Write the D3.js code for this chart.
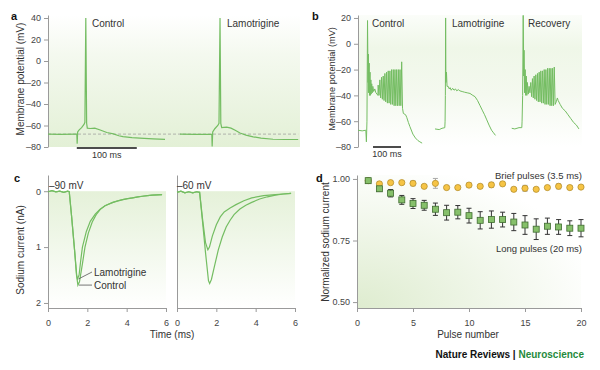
<!DOCTYPE html>
<html>
<head>
<meta charset="utf-8">
<script src="https://cdn.jsdelivr.net/npm/d3@7"></script>
<style>
  body { margin: 0; background: #fff; }
  svg { font-family: "Liberation Sans", Arial, Helvetica, sans-serif; }
</style>
</head>
<body>
<svg id="fig" width="600" height="370"></svg>
<script>
// ---- data ----
// panel a: current-clamp, time (ms) vs membrane potential (mV)
const aControl = [[0,-68],[20,-68.3],[47,-68],[48,-68],[48.6,-77],[49.4,-66],[52,-64],[56,-62],[60,-59],[61.5,-57],[63,40],[64.4,-58],[65.5,-62.5],[70,-62.8],[78,-62.5],[87,-64.2],[98,-66.5],[109,-67.8],[118,-69.5],[125,-70.4],[140,-71.3],[153,-71.7],[175,-72.4],[195,-72.9]];
const aLamotrigine = [[220,-68],[245,-68.3],[273,-68],[273.6,-79.5],[274.5,-66],[278,-63],[283,-60],[285,-58],[286.7,40],[288,-58],[289.5,-62],[293,-61.8],[298,-61.5],[305,-62.5],[312,-64.5],[320,-67],[330,-69],[342,-70.5],[355,-71.8],[375,-72.8],[395,-73],[417,-73]];
const aRest = -68;
const aTicks = [40, 20, 0, -20, -40, -60, -80];

// panel b: repetitive firing, time (ms) vs membrane potential (mV)
const bControl = [[0,-67],[15,-67.5],[28,-67],[30,-76],[32,-60],[34,18],[36,-30],[37,-8],[38,-38],[40,-15],[41,-40],[43,-22],[44,-40],[46,-28],[47,-39],[49,-31],[51,-38],[53,-33],[56,-37],[60,-35],[64,-38],[68,-39],[71,-40],
  [72,-32],[75,-40],[78,-28],[81,-42],[84,-26],[87,-43],[90,-25],[93,-44],[96,-23],[99,-45],[102,-22],[105,-46],[108,-21],[111,-46],[114,-21],[117,-47],[120,-20],[123,-47],[126,-20],[129,-48],[132,-20],[135,-48],[138,-20],[141,-48],[144,-20],[147,-48],[150,-20],[153,-48],
  [156,-14],[159,-50],[162,-54],[170,-55],[174,-57],[180,-61],[185,-64],[196,-70],[205,-73],[214,-75],[221,-76],[229,-77]];
const bLamotrigine = [[275,-66],[290,-66.5],[300,-65.5],[310,-65],[311,-60],[312,-40],[313,20],[314,-30],[316,-22],[318,-33],[322,-33],[326,-35],[329,-34],[333,-36],[338,-34.5],[343,-36],[348,-35],[353,-36.5],[358,-35.5],[364,-36.5],[372,-37],[380,-37.5],[390,-38],[400,-38.5],[410,-40],[418,-41],[427,-44],[436,-48],[445,-52],[452,-55],[460,-59],[468,-63],[477,-67],[484,-69],[491,-71]];
const bRecovery = [[549,-65.5],[560,-66],[575,-65],[585,-65],[586,-60],[588,-40],[590,22],[592,-25],[593,-5],[595,-38],[597,-20],[599,-40],[601,-25],[603,-40],[605,-30],[608,-39],[611,-33],[614,-38],
  [617,-30],[620,-41],[623,-27],[626,-42],[629,-25],[632,-43],[635,-24],[638,-44],[641,-23],[644,-45],[647,-22],[650,-45],[653,-21],[656,-46],[659,-21],[662,-46],[665,-20],[668,-47],[671,-20],[674,-47],[677,-19],[680,-47],[683,-19],[686,-48],[689,-19],[692,-48],[695,-19],[698,-48],[701,-18],[704,-47],
  [708,-45],[712,-42],[715,-44],[722,-47],[730,-50],[740,-52],[750,-55],[760,-58],[770,-61],[780,-63],[789,-66]];
const bTicks = [20, 0, -20, -40, -60, -80];

// panel c: sodium current (nA, inward plotted downwards) vs time (ms)
const c90Control = [[0,0.01],[0.2,-0.01],[0.4,0.01],[0.6,0],[0.8,0.02],[1.0,0],[1.08,0.01],[1.2,0.45],[1.35,1.05],[1.47,1.55],[1.52,1.68],[1.6,1.62],[1.75,1.3],[1.88,1.0],[2.05,0.75],[2.25,0.55],[2.45,0.42],[2.65,0.33],[2.9,0.26],[3.1,0.23],[3.3,0.2],[3.55,0.17],[3.8,0.15],[4.05,0.13],[4.3,0.12],[4.55,0.1],[4.8,0.09],[5.05,0.08],[5.3,0.07],[5.55,0.065],[5.8,0.06]];
const c90Lamotrigine = [[0,0.01],[0.2,-0.01],[0.4,0.01],[0.6,0],[0.8,0.02],[1.0,0],[1.08,0.01],[1.2,0.45],[1.35,1.05],[1.45,1.5],[1.5,1.57],[1.58,1.5],[1.66,1.25],[1.75,1.0],[1.95,0.72],[2.15,0.54],[2.4,0.41],[2.65,0.32],[2.9,0.26],[3.3,0.2],[3.8,0.15],[4.3,0.12],[4.8,0.09],[5.3,0.07],[5.8,0.06]];
const c60Control = [[0,0.02],[0.2,0.0],[0.4,0.03],[0.6,0.01],[0.8,0.03],[1.0,0.01],[1.15,0.02],[1.3,0.55],[1.45,1.1],[1.6,1.6],[1.66,1.65],[1.75,1.58],[1.9,1.35],[2.1,1.05],[2.3,0.82],[2.5,0.64],[2.7,0.52],[2.9,0.42],[3.2,0.32],[3.5,0.25],[3.8,0.2],[4.2,0.14],[4.6,0.1],[5.0,0.07],[5.4,0.05],[5.8,0.04]];
const c60Lamotrigine = [[0,0.02],[0.2,0.0],[0.4,0.03],[0.6,0.01],[0.8,0.03],[1.0,0.01],[1.15,0.02],[1.3,0.5],[1.45,0.92],[1.57,1.05],[1.65,1.0],[1.8,0.8],[2.0,0.6],[2.2,0.46],[2.4,0.37],[2.7,0.3],[3.0,0.24],[3.4,0.17],[3.8,0.12],[4.4,0.08],[5.0,0.06],[5.4,0.05],[5.8,0.04]];
const cTicksY = [0, 1, 2];
const cTicksX = [0, 2, 4, 6];

// panel d: normalized sodium current vs pulse number
const pulses = d3.range(1, 21);
const briefMean = [0.993,0.980,0.985,0.985,0.982,0.970,0.982,0.965,0.965,0.975,0.970,0.976,0.980,0.958,0.962,0.958,0.965,0.970,0.965,0.967];
const briefErr  = [0.004,0.008,0.006,0.006,0.010,0.006,0.020,0.007,0.008,0.008,0.008,0.010,0.007,0.008,0.012,0.007,0.006,0.010,0.008,0.006];
const longMean  = [0.993,0.960,0.942,0.915,0.900,0.893,0.877,0.863,0.865,0.851,0.832,0.835,0.835,0.825,0.813,0.796,0.808,0.805,0.800,0.800];
const longErr   = [0.003,0.010,0.015,0.018,0.020,0.020,0.025,0.030,0.027,0.030,0.035,0.035,0.030,0.035,0.038,0.042,0.033,0.030,0.030,0.035];
const dTicksY = [0.5, 0.75, 1.0];
const dTicksX = [0, 5, 10, 15, 20];

// ---- drawing ----
const trace = "#74bd62";
const axisGrey = "#9a9a9a";
const svg = d3.select("#fig");
const defs = svg.append("defs");

function vGrad(id, stops) {
  const g = defs.append("linearGradient").attr("id", id)
    .attr("x1", 0).attr("y1", 0).attr("x2", 0).attr("y2", 1);
  stops.forEach(s => g.append("stop").attr("offset", s[0]).attr("stop-color", s[1]));
}
vGrad("bgA", [[0, "#ffffff"], [0.3, "#f4f9ef"], [1, "#e3f0d6"]]);
vGrad("bgB", [[0, "#fbfdf9"], [0.25, "#eff7e8"], [0.6, "#f4f9ef"], [1, "#ffffff"]]);
vGrad("bgC", [[0, "#e5f1d9"], [1, "#ffffff"]]);
const rg = defs.append("radialGradient").attr("id", "bgD")
  .attr("cx", 0).attr("cy", 1).attr("r", 1.1);
rg.append("stop").attr("offset", 0).attr("stop-color", "#deeccf");
rg.append("stop").attr("offset", 1).attr("stop-color", "#ffffff");

function styleAxis(g) {
  g.attr("font-family", null).attr("font-size", null);
  g.select(".domain").attr("stroke", axisGrey);
  g.selectAll(".tick line").attr("stroke", axisGrey);
  g.selectAll(".tick text").attr("fill", "#444").style("font-size", "9px");
}
const dashFmt = v => (v < 0 ? "\u2013" + Math.abs(v) : String(v));
const intFmt = d3.format("d");

function label(txt, x, y, opts = {}) {
  return svg.append("text").attr("x", x).attr("y", y)
    .attr("text-anchor", opts.anchor || "start")
    .attr("font-size", opts.size || 10)
    .attr("font-weight", opts.bold ? "bold" : null)
    .attr("fill", opts.fill || "#333")
    .text(txt);
}
function yLabel(txt, x, y, size) {
  svg.append("text").attr("transform", `translate(${x},${y}) rotate(-90)`)
    .attr("text-anchor", "middle").attr("dominant-baseline", "central")
    .attr("font-size", size).attr("fill", "#333").text(txt);
}

// ---------- panel a ----------
const xA = d3.scaleLinear().domain([0, 420]).range([48, 300]);
const yA = d3.scaleLinear().domain([-80, 42.8]).range([147, 15]);
svg.append("rect").attr("x", xA(0)).attr("y", yA(42.8)).attr("width", xA(420) - xA(0))
  .attr("height", yA(-80) - yA(42.8)).attr("fill", "url(#bgA)");
svg.append("g").attr("transform", `translate(${xA(0)},0)`)
  .call(d3.axisLeft(yA).tickValues(aTicks).tickFormat(dashFmt).tickSize(4).tickPadding(3).tickSizeOuter(0))
  .call(styleAxis);
svg.append("line").attr("x1", xA(0)).attr("x2", xA(417)).attr("y1", yA(aRest)).attr("y2", yA(aRest))
  .attr("stroke", "#999").attr("stroke-width", 0.7).attr("stroke-dasharray", "3,2");
const lineA = d3.line().x(d => xA(d[0])).y(d => yA(d[1]));
[aControl, aLamotrigine].forEach(s => svg.append("path").attr("d", lineA(s))
  .attr("fill", "none").attr("stroke", trace).attr("stroke-width", 1.2));
svg.append("line").attr("x1", xA(48)).attr("x2", xA(148)).attr("y1", yA(-81)).attr("y2", yA(-81))
  .attr("stroke", "#111").attr("stroke-width", 1.6);
label("100 ms", (xA(48) + xA(148)) / 2, 158, { anchor: "middle", size: 9 });
label("Control", 92, 27);
label("Lamotrigine", 227, 27);
label("a", 11, 20, { bold: true, size: 11, fill: "#111" });
yLabel("Membrane potential (mV)", 20, 79, 10);

// ---------- panel b ----------
const xB = d3.scaleLinear().domain([0, 800]).range([358, 582]);
const yB = d3.scaleLinear().domain([-80, 22.3]).range([147, 15]);
svg.append("rect").attr("x", xB(0)).attr("y", yB(22.3)).attr("width", xB(800) - xB(0))
  .attr("height", yB(-80) - yB(22.3)).attr("fill", "url(#bgB)");
svg.append("g").attr("transform", `translate(${xB(0)},0)`)
  .call(d3.axisLeft(yB).tickValues(bTicks).tickFormat(dashFmt).tickSize(4).tickPadding(3).tickSizeOuter(0))
  .call(styleAxis);
const lineB = d3.line().x(d => xB(d[0])).y(d => yB(d[1]));
[bControl, bLamotrigine, bRecovery].forEach(s => svg.append("path").attr("d", lineB(s))
  .attr("fill", "none").attr("stroke", trace).attr("stroke-width", 1));
svg.append("line").attr("x1", xB(53.6)).attr("x2", xB(153.6)).attr("y1", yB(-80)).attr("y2", yB(-80))
  .attr("stroke", "#111").attr("stroke-width", 1.5);
label("100 ms", (xB(53.6) + xB(153.6)) / 2, 157, { anchor: "middle", size: 9 });
label("Control", 372, 27);
label("Lamotrigine", 452, 27);
label("Recovery", 528, 27);
label("b", 312, 20, { bold: true, size: 11, fill: "#111" });
yLabel("Membrane potential (mV)", 332, 79, 9.2);

// ---------- panel c ----------
const yC = d3.scaleLinear().domain([2.09, -0.29]).range([308, 175]);
const xC1 = d3.scaleLinear().domain([0, 6]).range([48, 166]);
const xC2 = d3.scaleLinear().domain([0, 6]).range([177, 295]);
[xC1, xC2].forEach(x => svg.append("rect").attr("x", x(0)).attr("y", yC(0))
  .attr("width", x(6) - x(0)).attr("height", yC(2.09) - yC(0)).attr("fill", "url(#bgC)"));
svg.append("g").attr("transform", `translate(${xC1(0)},0)`)
  .call(d3.axisLeft(yC).tickValues(cTicksY).tickFormat(intFmt).tickSize(4).tickPadding(3).tickSizeOuter(0))
  .call(styleAxis);
svg.append("g").attr("transform", `translate(${xC2(0)},0)`)
  .call(d3.axisLeft(yC).tickValues([]).tickSizeOuter(0))
  .call(styleAxis);
[xC1, xC2].forEach(x => svg.append("g").attr("transform", `translate(0,${yC(2.09)})`)
  .call(d3.axisBottom(x).tickValues(cTicksX).tickFormat(intFmt).tickSize(4).tickPadding(8).tickSizeOuter(0))
  .call(styleAxis));
const lineC1 = d3.line().x(d => xC1(d[0])).y(d => yC(d[1]));
const lineC2 = d3.line().x(d => xC2(d[0])).y(d => yC(d[1]));
[c90Control, c90Lamotrigine].forEach(s => svg.append("path").attr("d", lineC1(s))
  .attr("fill", "none").attr("stroke", trace).attr("stroke-width", 1.2));
[c60Control, c60Lamotrigine].forEach(s => svg.append("path").attr("d", lineC2(s))
  .attr("fill", "none").attr("stroke", trace).attr("stroke-width", 1.2));
// leader lines from trace minima
const minOf = s => s.reduce((a, b) => (b[1] > a[1] ? b : a));
const mLam = minOf(c90Lamotrigine), mCon = minOf(c90Control);
svg.append("line").attr("x1", xC1(mLam[0]) + 1).attr("y1", yC(mLam[1])).attr("x2", 92).attr("y2", 272)
  .attr("stroke", "#555").attr("stroke-width", 0.8);
svg.append("line").attr("x1", xC1(mCon[0]) + 1).attr("y1", yC(mCon[1])).attr("x2", 92).attr("y2", yC(mCon[1]))
  .attr("stroke", "#555").attr("stroke-width", 0.8);
label("Lamotrigine", 94, 275.5);
label("Control", 94, yC(mCon[1]) + 3.5);
label("\u201390 mV", 49, 189);
label("\u201360 mV", 177, 189);
label("Time (ms)", 172, 338, { anchor: "middle" });
label("c", 14, 182, { bold: true, size: 11, fill: "#111" });
yLabel("Sodium current (nA)", 20, 250, 10);

// ---------- panel d ----------
const xD = d3.scaleLinear().domain([0, 20]).range([357, 581]);
const yD = d3.scaleLinear().domain([0.476, 1.016]).range([308, 175]);
svg.append("rect").attr("x", xD(0)).attr("y", yD(1.016)).attr("width", xD(20) - xD(0))
  .attr("height", yD(0.476) - yD(1.016)).attr("fill", "url(#bgD)");
svg.append("g").attr("transform", `translate(${xD(0)},0)`)
  .call(d3.axisLeft(yD).tickValues(dTicksY).tickFormat(d3.format(".2f")).tickSize(4).tickPadding(3).tickSizeOuter(0))
  .call(styleAxis);
svg.append("g").attr("transform", `translate(0,${yD(0.476)})`)
  .call(d3.axisBottom(xD).tickValues(dTicksX).tickFormat(intFmt).tickSize(4).tickPadding(8).tickSizeOuter(0))
  .call(styleAxis);

function errBars(mean, err, color) {
  const g = svg.append("g").attr("stroke", color).attr("stroke-width", 1).attr("fill", "none");
  pulses.forEach((p, i) => {
    const x = xD(p), y0 = yD(mean[i] - err[i]), y1 = yD(mean[i] + err[i]);
    g.append("line").attr("x1", x).attr("x2", x).attr("y1", y0).attr("y2", y1);
    g.append("line").attr("x1", x - 2.5).attr("x2", x + 2.5).attr("y1", y0).attr("y2", y0);
    g.append("line").attr("x1", x - 2.5).attr("x2", x + 2.5).attr("y1", y1).attr("y2", y1);
  });
}
errBars(briefMean, briefErr, "#a8a8a8");
errBars(longMean, longErr, "#333");
svg.append("g").selectAll("circle").data(pulses).join("circle")
  .attr("cx", d => xD(d)).attr("cy", (d, i) => yD(briefMean[i])).attr("r", 3.1)
  .attr("fill", "#f6c445").attr("stroke", "#b8902c").attr("stroke-width", 0.8);
svg.append("g").selectAll("rect").data(pulses).join("rect")
  .attr("x", d => xD(d) - 3).attr("y", (d, i) => yD(longMean[i]) - 3)
  .attr("width", 6).attr("height", 6)
  .attr("fill", "#86c06a").attr("stroke", "#3f6b30").attr("stroke-width", 0.8);
label("Brief pulses (3.5 ms)", 582, 178.5, { anchor: "end", size: 9.5 });
label("Long pulses (20 ms)", 582, 251.5, { anchor: "end", size: 9.5 });
label("Pulse number", 468, 338, { anchor: "middle" });
label("d", 316, 182, { bold: true, size: 11, fill: "#111" });
yLabel("Normalized sodium current", 325, 242, 10);

// footer
const foot = svg.append("text").attr("x", 584).attr("y", 358).attr("text-anchor", "end")
  .attr("font-size", 10).attr("font-weight", "bold");
foot.append("tspan").attr("fill", "#111").text("Nature Reviews | ");
foot.append("tspan").attr("fill", "#1f8a3c").text("Neuroscience");
</script>
</body>
</html>
